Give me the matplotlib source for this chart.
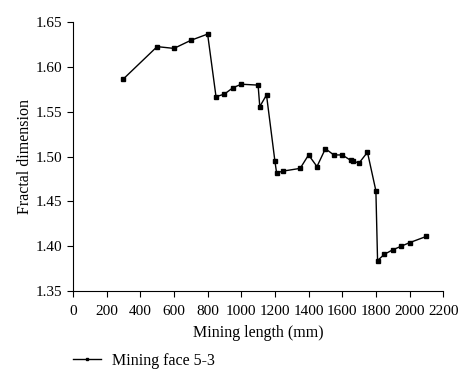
import matplotlib
matplotlib.use("Agg")
import matplotlib.pyplot as plt

# mining length (mm) and fractal dimension
length = [300, 500, 600, 700, 800, 850, 900, 950, 1000, 1100, 1110, 1150,
          1200, 1210, 1250, 1350, 1400, 1450, 1500, 1550, 1600, 1650, 1665,
          1700, 1750, 1800, 1810, 1850, 1900, 1950, 2000, 2100]
fractal = [1.587, 1.623, 1.621, 1.630, 1.637, 1.567, 1.570, 1.577, 1.581, 1.580, 1.556, 1.569,
           1.495, 1.482, 1.484, 1.487, 1.502, 1.489, 1.509, 1.502, 1.502, 1.496, 1.495,
           1.493, 1.505, 1.462, 1.384, 1.391, 1.396, 1.400, 1.404, 1.411]

xticks = list(range(0, 2201, 200))
yticks = [1.35, 1.40, 1.45, 1.50, 1.55, 1.60, 1.65]

plt.rcParams['font.family'] = 'Liberation Serif'
plt.rcParams['font.size'] = 11

fig = plt.figure(figsize=(4.74, 3.87), dpi=100)
ax = fig.add_axes([0.154, 0.248, 0.781, 0.694])

ax.plot(length, fractal, color='black', linewidth=1.0, marker='s', markersize=2.8,
        label='Mining face 5-3')

ax.set_xlim(0, 2200)
ax.set_ylim(1.35, 1.65)
ax.set_xticks(xticks)
ax.set_yticks(yticks)
ax.set_yticklabels(['%.2f' % v for v in yticks])
ax.tick_params(direction='out', length=4, width=0.8)
ax.tick_params(axis='x', pad=6)
for s in ['top', 'right']:
    ax.spines[s].set_visible(False)
ax.set_xlabel('Mining length (mm)', fontsize=11.5, labelpad=5)
ax.set_ylabel('Fractal dimension', fontsize=11.5, labelpad=2)

fig.legend(loc='center left', bbox_to_anchor=(0.154, 0.067), frameon=False,
           borderpad=0, borderaxespad=0, handlelength=1.75, handletextpad=0.7,
           markerscale=0.75, fontsize=11.5)

fig.savefig('out.png', dpi=100)
